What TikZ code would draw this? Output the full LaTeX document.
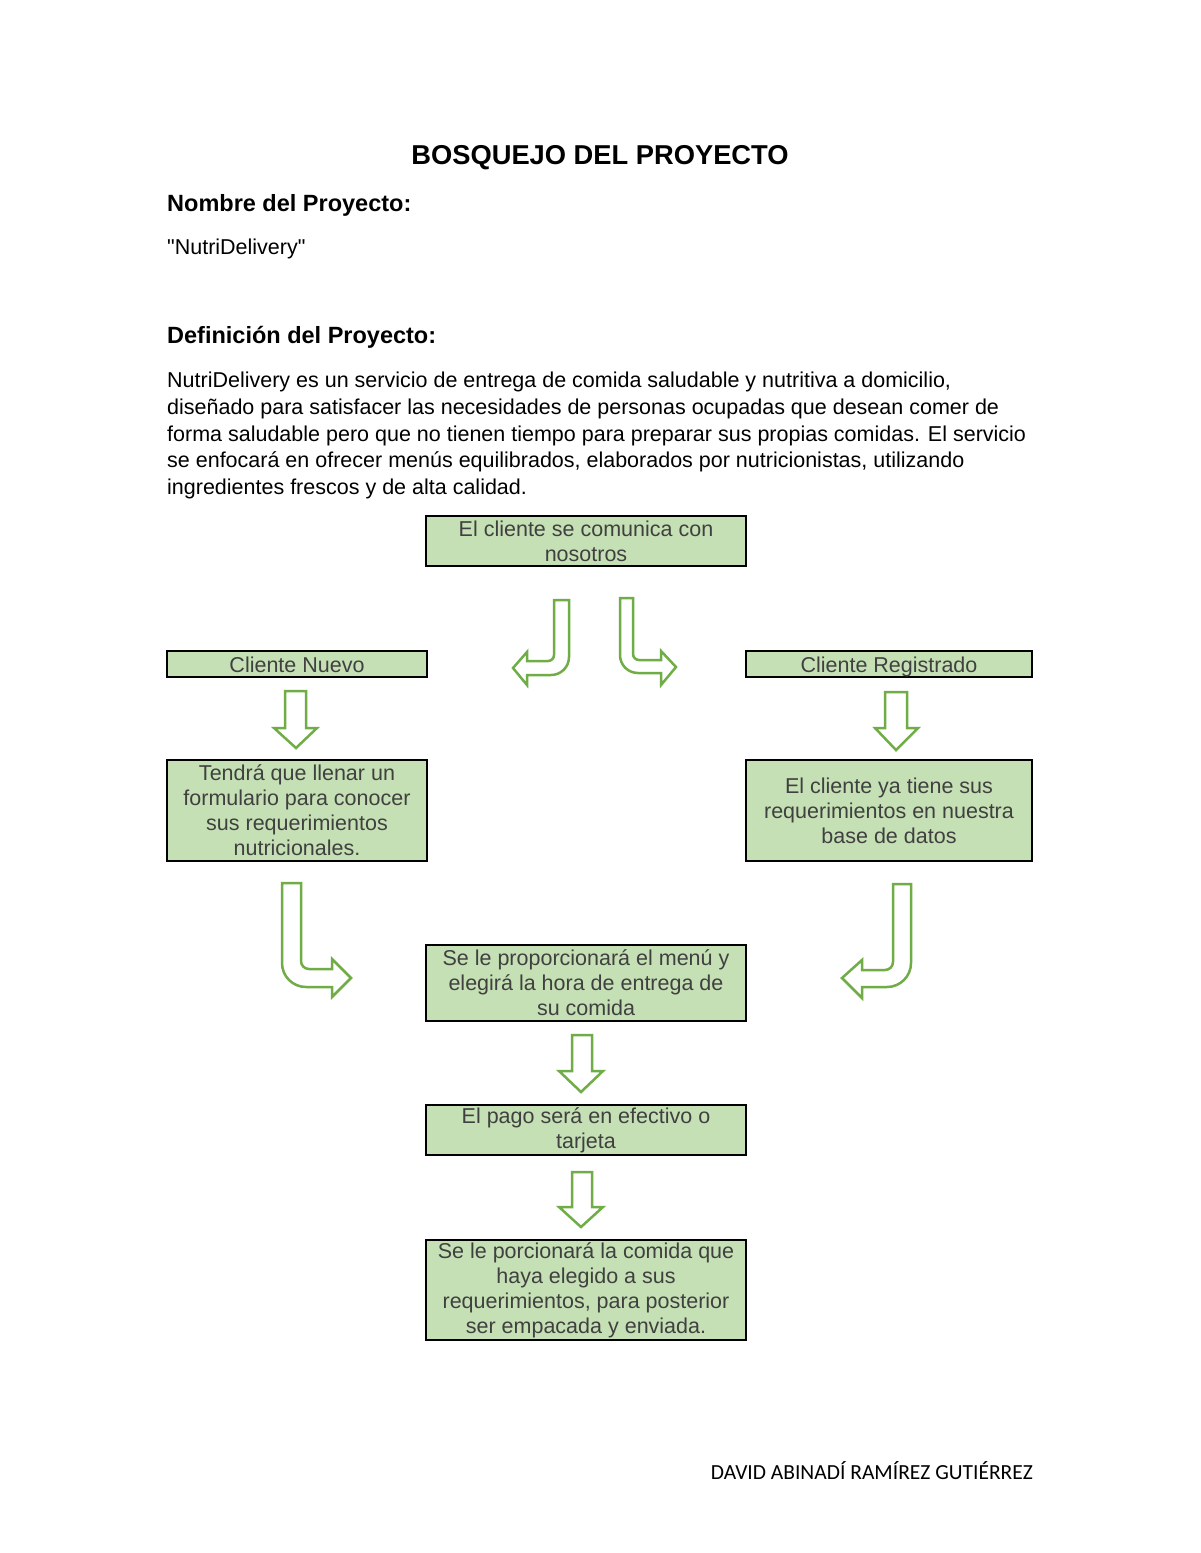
\documentclass[tikz,border=0pt]{standalone}
\usepackage{fontspec}
\setmainfont{Liberation Sans}
\newfontfamily\rawsans{Liberation Sans}
\newfontfamily\footfont{Carlito}
\definecolor{boxfill}{HTML}{C5E0B4}
\definecolor{arrowgreen}{HTML}{70AD47}
\definecolor{boxtext}{HTML}{404040}
\tikzset{
  flowbox/.style={draw=black, line width=2pt, fill=boxfill, rectangle, inner sep=0pt,
    align=center, text=boxtext, font=\fontsize{21.5}{25}\selectfont},
  oneline/.style={text height=17pt, text depth=0pt},
  blockarrow/.style={draw=arrowgreen, line width=2.5pt, fill=white, line join=miter},
  plaintext/.style={inner sep=0pt, text=black}
}
\begin{document}
\begin{tikzpicture}[x=1pt, y=-1pt]
\useasboundingbox (0,0) rectangle (1200,1553);
\fill[white] (0,0) rectangle (1200,1553);

% headings
\node[plaintext, font=\fontsize{27.3}{30}\selectfont\bfseries] (title) at (600,158) {BOSQUEJO DEL PROYECTO};
\node[plaintext, anchor=west, font=\fontsize{23.5}{27}\selectfont\bfseries] (nombre) at (167,205) {Nombre del Proyecto:};
\node[plaintext, anchor=west, font=\rawsans\fontsize{21.5}{26.6}\selectfont] (nutri) at (167,249) {"NutriDelivery"};
\node[plaintext, anchor=west, font=\fontsize{23.5}{27}\selectfont\bfseries] (defin) at (167,337) {Definición del Proyecto:};
\node[plaintext, anchor=west, align=left, font=\fontsize{21.5}{26.6}\selectfont] (body) at (167,435.5) {NutriDelivery es un servicio de entrega de comida saludable y nutritiva a domicilio,\\
diseñado para satisfacer las necesidades de personas ocupadas que desean comer de\\
forma saludable pero que no tienen tiempo para preparar sus propias comidas. El servicio\\
se enfocará en ofrecer menús equilibrados, elaborados por nutricionistas, utilizando\\
ingredientes frescos y de alta calidad.};

% boxes
\node[flowbox, minimum width=320, minimum height=50] (start) at (586,541) {El cliente se comunica con\\nosotros};
\node[flowbox, oneline, minimum width=260, minimum height=26] (nuevo) at (297,664) {Cliente Nuevo};
\node[flowbox, oneline, minimum width=286, minimum height=26] (registrado) at (889,664) {Cliente Registrado};
\node[flowbox, minimum width=260, minimum height=101] (tendra) at (297,810.5) {Tendrá que llenar un\\formulario para conocer\\sus requerimientos\\nutricionales.};
\node[flowbox, minimum width=286, minimum height=101] (yatiene) at (889,810.5) {El cliente ya tiene sus\\requerimientos en nuestra\\base de datos};
\node[flowbox, minimum width=320, minimum height=76] (menu) at (586,983) {Se le proporcionará el menú y\\elegirá la hora de entrega de\\su comida};
\node[flowbox, minimum width=320, minimum height=50] (pago) at (586,1130) {El pago será en efectivo o\\tarjeta};
\node[flowbox, minimum width=320, minimum height=100] (porcion) at (586,1290) {Se le porcionará la comida que\\haya elegido a sus\\requerimientos, para posterior\\ser empacada y enviada.};

% bent arrows
\draw[blockarrow] (554,600) -- (569,600) -- (569,657) .. controls (569,667) and (561,675) .. (551,675)
  -- (527,675) -- (527,685) -- (513,668) -- (527,652) -- (527,661) -- (548,661)
  .. controls (551.3,661) and (554,658.3) .. (554,655) -- cycle;
\draw[blockarrow] (620,598) -- (633,598) -- (633,654) .. controls (633,657.3) and (635.7,660) .. (639,660)
  -- (661,660) -- (661,651) -- (676,667) -- (661,685) -- (661,673) -- (638,673)
  .. controls (628,673) and (620,665) .. (620,655) -- cycle;
\draw[blockarrow] (282,883) -- (301,883) -- (301,961) .. controls (301,965.5) and (304.5,969) .. (309,969)
  -- (332,969) -- (332,959) -- (351,978) -- (332,997) -- (332,987) -- (306,987)
  .. controls (292.7,987) and (282,976.3) .. (282,963) -- cycle;
\draw[blockarrow] (893,884) -- (911,884) -- (911,963) .. controls (911,976.3) and (900.3,987) .. (887,987)
  -- (862,987) -- (862,998) -- (842,978) -- (862,960) -- (862,970) -- (885,970)
  .. controls (889.4,970) and (893,966.4) .. (893,962) -- cycle;

% straight down arrows
\draw[blockarrow] (285,691) -- (306,691) -- (306,728) -- (317,728) -- (296,748) -- (274,728) -- (285,728) -- cycle;
\draw[blockarrow] (885,692) -- (907,692) -- (907,728) -- (918,728) -- (896,750) -- (875,728) -- (885,728) -- cycle;
\draw[blockarrow] (572,1035) -- (592,1035) -- (592,1071) -- (603,1071) -- (581,1092) -- (559,1071) -- (572,1071) -- cycle;
\draw[blockarrow] (572,1172) -- (592,1172) -- (592,1207) -- (603,1207) -- (581,1227) -- (559,1207) -- (572,1207) -- cycle;

% footer
\node[plaintext, anchor=east, font=\footfont\fontsize{21.5}{25}\selectfont] (author) at (1033,1471) {DAVID ABINADÍ RAMÍREZ GUTIÉRREZ};
\end{tikzpicture}
\end{document}
